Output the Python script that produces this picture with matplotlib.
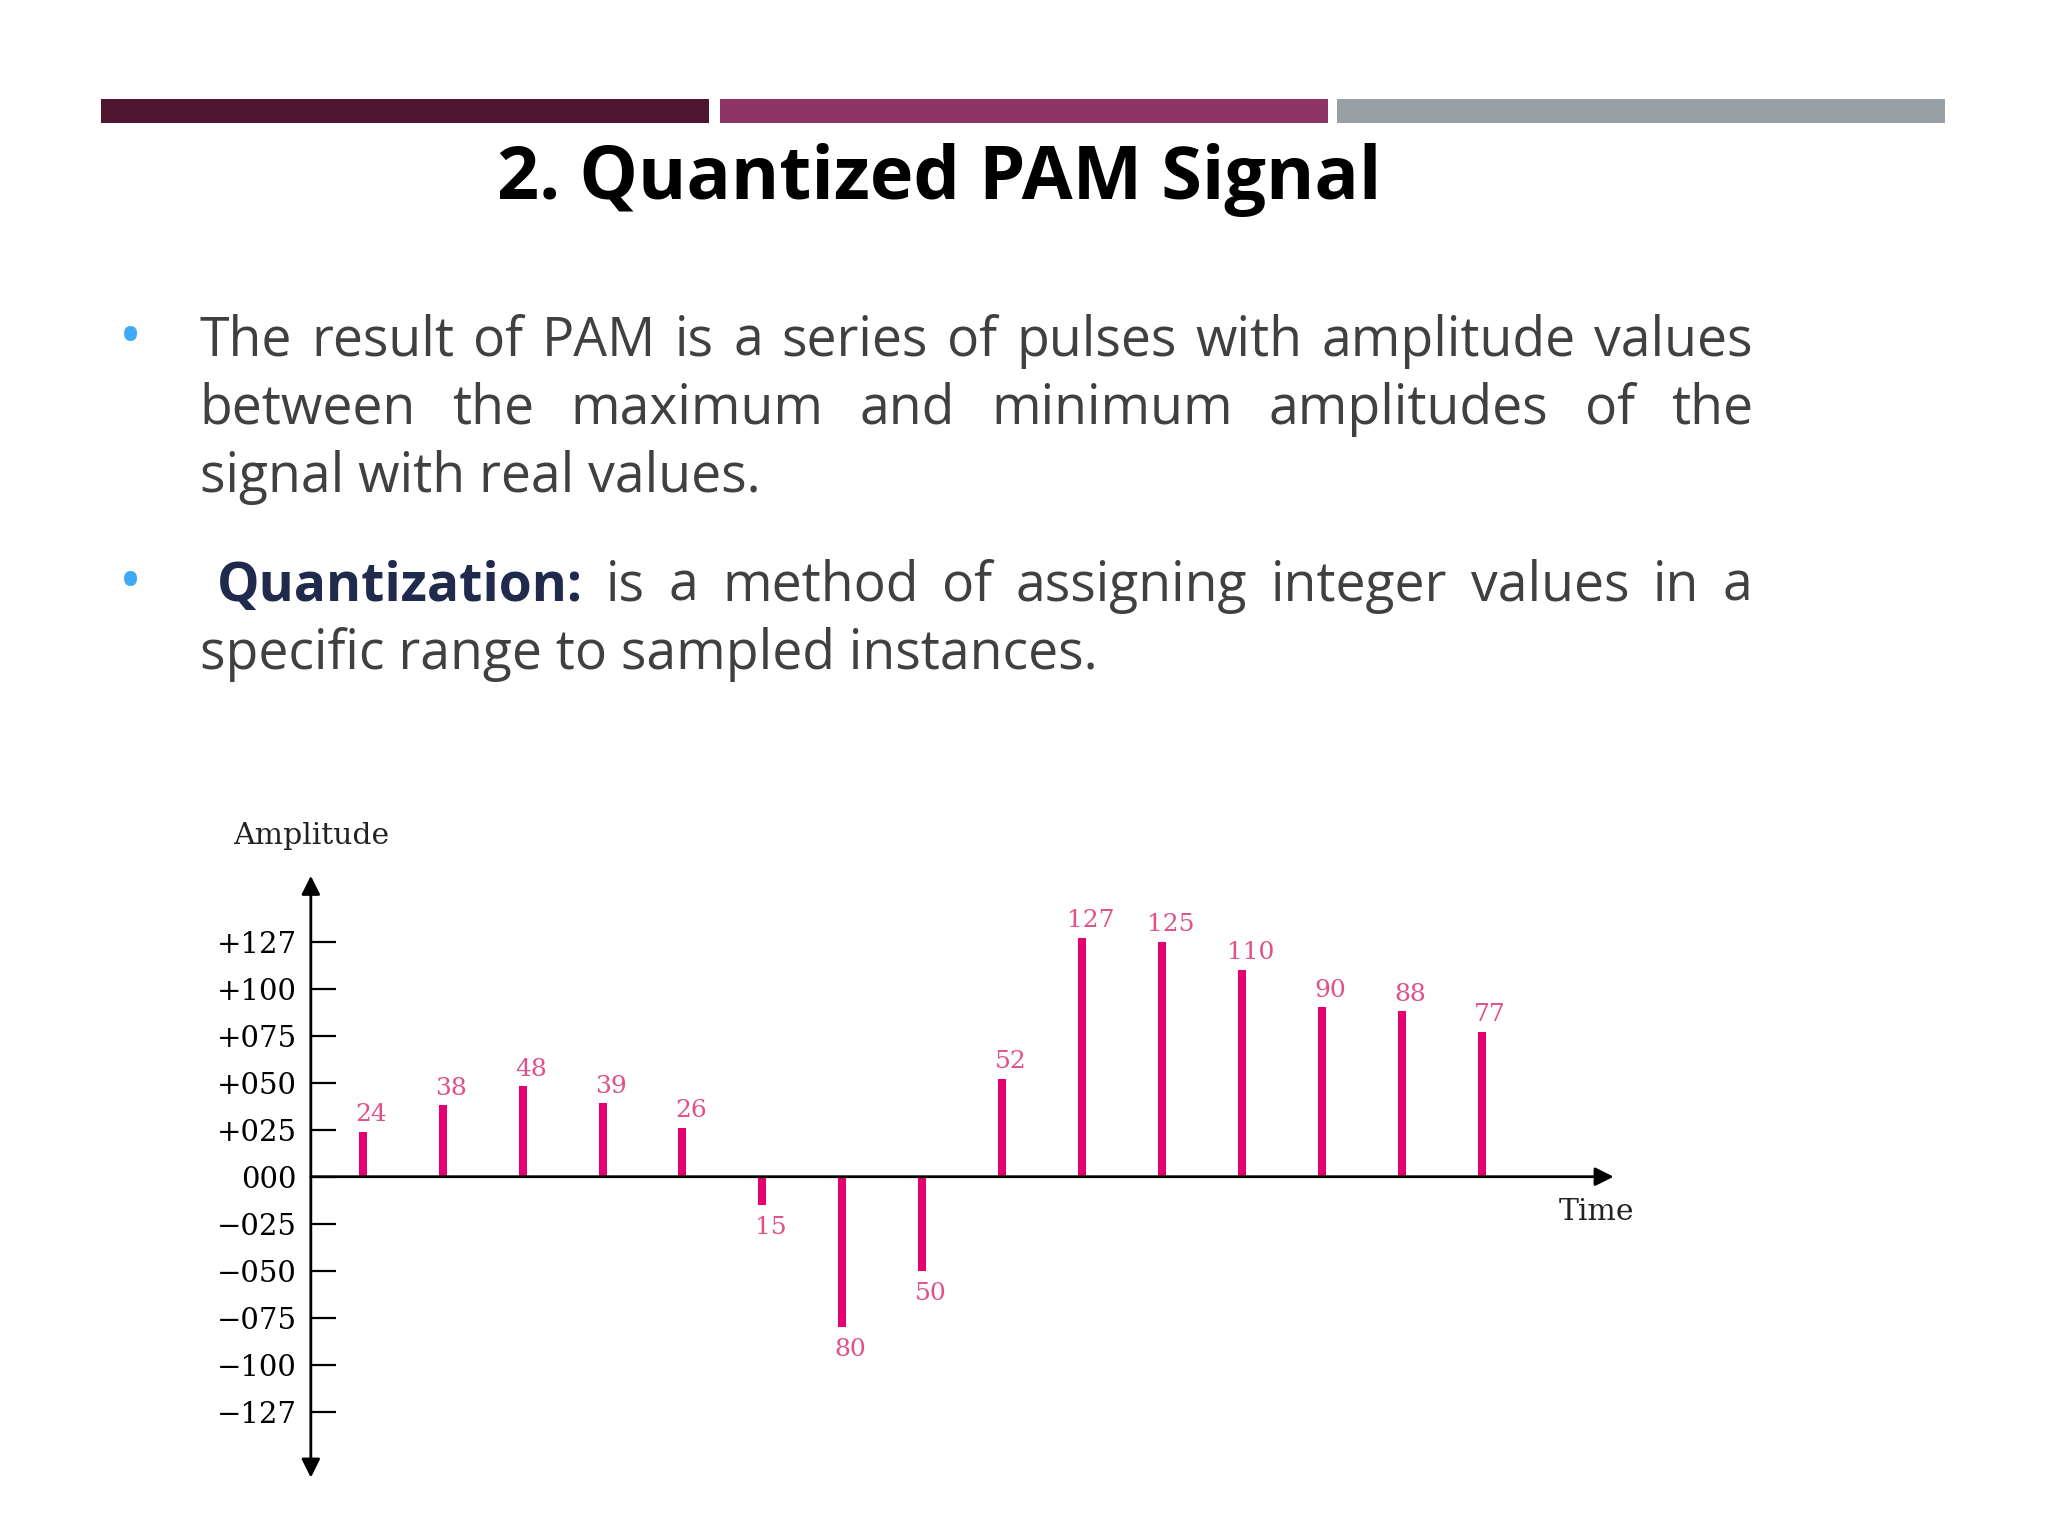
import matplotlib
matplotlib.use('Agg')
import matplotlib.pyplot as plt
import numpy as np
from matplotlib.patches import Rectangle

## quantized PAM slide: header, bullet text, stem chart

# chart data
samples = np.arange(1, 16)
values = [24, 38, 48, 39, 26, -15, -80, -50, 52, 127, 125, 110, 90, 88, 77]
tick_levels = np.arange(-125, 126, 25)
tick_labels = ['−127', '−100', '−075', '−050', '−025', '000',
               '+025', '+050', '+075', '+100', '+127']

# slide text
title = '2. Quantized PAM Signal'
para1 = ['The result of PAM is a series of pulses with amplitude values',
         'between the maximum and minimum amplitudes of the',
         'signal with real values.']
para2_head = 'Quantization:'
para2 = ['is a method of assigning integer values in a',
         'specific range to sampled instances.']

W, H = 2048, 1536
S = 1.306  # layout below was measured on a 1568 px wide copy
fig = plt.figure(figsize=(W / 100, H / 100), dpi=100)
fig.patch.set_facecolor('white')
renderer = fig.canvas.get_renderer()


def fx(x):
    return x * S / W


def fy(y):
    return 1 - y * S / H


def width_of(t):
    return t.get_window_extent(renderer).width / S


def fit_size(text, target, **kw):
    probe = fig.text(0, 0, text, size=10, **kw)
    w = width_of(probe)
    probe.remove()
    return 10 * target / w


# header strip
for (x0, x1), c in zip([(77, 543), (551, 1017), (1024, 1489)],
                       ['#4f1632', '#8e3464', '#98a0a6']):
    fig.add_artist(Rectangle((fx(x0), fy(94)), (x1 - x0) * S / W, 18 * S / H,
                             transform=fig.transFigure, color=c, lw=0))

title_size = fit_size(title, 678, family='Open Sans', weight='bold')
fig.text(fx(719), fy(152), title, ha='center', va='baseline',
         family='Open Sans', weight='bold', size=title_size, color='black')

# body text
body = dict(family='Open Sans', color='#404040')
body_size = fit_size(para1[-1], 430, **body)
body['size'] = body_size
X0, X1 = 153, 1342


def justify(words, x0, x1, y):
    arts = [fig.text(fx(x0), fy(y), w, va='baseline', **{**body, **p})
            for w, p in words]
    widths = [width_of(a) for a in arts]
    gap = (x1 - x0 - sum(widths)) / (len(arts) - 1)
    x = x0
    for a, w in zip(arts, widths):
        a.set_x(fx(x))
        x += w + gap


bullet = dict(ha='center', va='baseline', color='#3fa9f5', size=body_size * 1.15,
              family='Open Sans')

ys1 = [272.5, 324.5, 376.5]
fig.text(fx(100), fy(ys1[0]), '•', **bullet)
for line, y in zip(para1[:-1], ys1):
    justify([(w, {}) for w in line.split()], X0, X1, y)
fig.text(fx(X0), fy(ys1[-1]), para1[-1], va='baseline', **body)

ys2 = [460, 512]
fig.text(fx(100), fy(ys2[0]), '•', **bullet)
head = [(para2_head, dict(weight='bold', color='#1f2a4d'))]
justify(head + [(w, {}) for w in para2[0].split()], 166, X1, ys2[0])
fig.text(fx(X0), fy(ys2[-1]), para2[-1], va='baseline', **body)

# chart: origin at (238, 901), 61.2 px per sample, 36 px per 25 levels
ox, oy = 238, 901
ux, uy = 61.2, 36 / 25
xlim = (0.35, 17.0)
ylim = (-165, 165)
ax = fig.add_axes([ox * S / W,
                   1 - (oy + ylim[1] * uy) * S / H,
                   (xlim[1] - xlim[0]) * ux * S / W,
                   (ylim[1] - ylim[0]) * uy * S / H])
ax.set_xlim(*xlim)
ax.set_ylim(*ylim)
ax.patch.set_alpha(0)
for s in ax.spines.values():
    s.set_visible(False)

pink = '#e5006f'
ax.bar(samples, values, width=0.1, color=pink, zorder=3)

serif = dict(family='DejaVu Serif')
for x, v in zip(samples, values):
    off = 4 if v > 0 else -8
    ax.annotate(str(abs(v)), (x, v), xytext=(6, off), textcoords='offset points',
                ha='center', va='bottom' if v > 0 else 'top',
                color='#e0508a', size=18, **serif)

ax.set_xticks([])
ax.set_yticks(tick_levels)
ax.set_yticklabels(tick_labels, **serif, size=21)
ax.tick_params(axis='y', direction='in', length=18, width=1.6, pad=10,
               colors='black')

arrow = dict(color='black', lw=2, shrinkA=0, shrinkB=0, mutation_scale=28)
ax.annotate('', xy=(0.35, 160), xytext=(0.35, -160), annotation_clip=False,
            arrowprops=dict(arrowstyle='<|-|>', **arrow))
ax.annotate('', xy=(16.65, 0), xytext=(0.35, 0), annotation_clip=False,
            arrowprops=dict(arrowstyle='-|>', **arrow))

ax.text(0.35, 181, 'Amplitude', ha='center', va='center', size=21.5,
        color='#222222', **serif)
ax.text(16.44, -19, 'Time', ha='center', va='center', size=21.5,
        color='#222222', **serif)

fig.savefig('out.png', dpi=100)
